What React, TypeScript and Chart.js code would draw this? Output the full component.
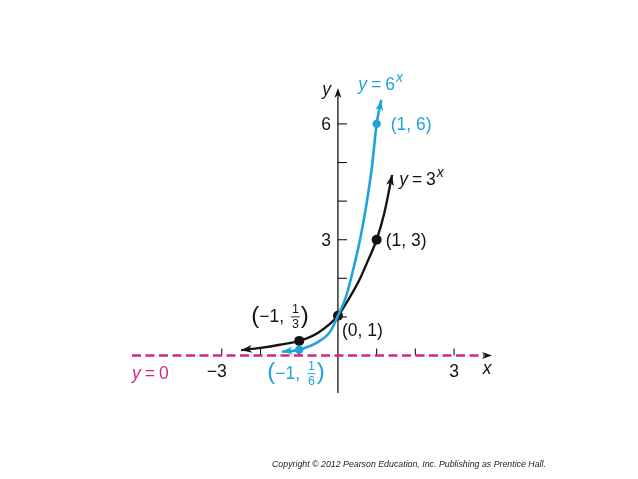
import React, { useEffect, useRef } from "react";
import { Chart, registerables } from "chart.js";

Chart.register(...registerables);

// ---- data ----
const xRange = [-5.32, 3.98];
const yRange = [-0.97, 6.93];
const xTickValues = [-3, -2, -1, 1, 2, 3];
const xLabelValues = [-3, 3];
const xLabelTexts = ["\u22123", "3"];
const yTickValues = [1, 2, 3, 4, 5, 6];
const yLabelValues = [3, 6];
const yLabelTexts = ["3", "6"];

// y = 3^x curve (black)
const curve3X = [-2.5, -2, -1.5, -1, -0.5, 0, 0.3, 0.55, 0.75, 1, 1.2, 1.4];
const curve3Y = [0.14, 0.2, 0.28, 0.38, 0.6, 1.03, 1.5, 1.95, 2.4, 3, 3.7, 4.68];
// y = 6^x curve (blue)
const curve6X = [-1.45, -1, -0.5, -0.2, 0, 0.2, 0.4, 0.6, 0.75, 0.88, 1, 1.12];
const curve6Y = [0.1, 0.15, 0.36, 0.62, 1.03, 1.5, 2.25, 3.15, 4.0, 4.9, 6, 6.62];

// marked points
const blackPtsX = [-1, 0, 1];
const blackPtsY = [0.38, 1.03, 3];
const bluePtsX = [-1, 1];
const bluePtsY = [0.15, 6];

const BLUE = "#1fa3dc";
const PINK = "#d0297f";
const BLACK = "#141414";
const FONT = "'Liberation Sans', Arial, Helvetica, sans-serif";

function drawArrow(ctx: CanvasRenderingContext2D, x: number, y: number, ang: number, color: string, len = 10, half = 4) {
  ctx.save();
  ctx.translate(x, y);
  ctx.rotate(ang);
  ctx.fillStyle = color;
  ctx.beginPath();
  ctx.moveTo(0, 0);
  ctx.lineTo(-len, -half);
  ctx.lineTo(-len * 0.7, 0);
  ctx.lineTo(-len, half);
  ctx.closePath();
  ctx.fill();
  ctx.restore();
}

function drawFracLabel(ctx: CanvasRenderingContext2D, left: number, mid: number, prefix: string, num: string, den: string, color: string) {
  ctx.save();
  ctx.fillStyle = color;
  ctx.strokeStyle = color;
  ctx.textBaseline = "middle";
  ctx.textAlign = "left";
  let x = left;
  ctx.font = `24px ${FONT}`;
  ctx.fillText("(", x, mid);
  x += ctx.measureText("(").width;
  ctx.font = `17.5px ${FONT}`;
  ctx.fillText(prefix, x, mid + 1);
  x += ctx.measureText(prefix).width + 2;
  ctx.font = `12.5px ${FONT}`;
  const w = ctx.measureText(num).width;
  ctx.textAlign = "center";
  ctx.fillText(num, x + w / 2 + 1, mid - 6.5);
  ctx.fillText(den, x + w / 2 + 1, mid + 9);
  ctx.lineWidth = 0.9;
  ctx.beginPath();
  ctx.moveTo(x, mid + 1);
  ctx.lineTo(x + w + 2, mid + 1);
  ctx.stroke();
  x += w + 3;
  ctx.textAlign = "left";
  ctx.font = `24px ${FONT}`;
  ctx.fillText(")", x, mid);
  ctx.restore();
}

function drawEqLabel(ctx: CanvasRenderingContext2D, left: number, base: number, rhs: string, sup: string | null, color: string) {
  ctx.save();
  ctx.fillStyle = color;
  ctx.textBaseline = "alphabetic";
  ctx.textAlign = "left";
  let x = left;
  ctx.font = `italic 17.5px ${FONT}`;
  ctx.fillText("y", x, base);
  x += ctx.measureText("y").width + 4;
  ctx.font = `17.5px ${FONT}`;
  ctx.fillText("=", x, base);
  x += ctx.measureText("=").width + 4;
  ctx.fillText(rhs, x, base);
  x += ctx.measureText(rhs).width + 1;
  if (sup) {
    ctx.font = `italic 14px ${FONT}`;
    ctx.fillText(sup, x, base - 8);
  }
  ctx.restore();
}

const graphPlugin = {
  id: "graphDecor",
  beforeDatasetsDraw(chart: any) {
    const ctx: CanvasRenderingContext2D = chart.ctx;
    const xs = chart.scales.x;
    const ys = chart.scales.y;
    const x0 = xs.getPixelForValue(0);
    const y0 = ys.getPixelForValue(0);
    ctx.save();
    // y axis
    ctx.strokeStyle = BLACK;
    ctx.lineWidth = 1.3;
    ctx.beginPath();
    ctx.moveTo(x0, ys.getPixelForValue(yRange[0]));
    ctx.lineTo(x0, ys.getPixelForValue(yRange[1]) + 6);
    ctx.stroke();
    // y ticks (to the right)
    ctx.lineWidth = 1.1;
    yTickValues.forEach((v) => {
      const p = ys.getPixelForValue(v);
      ctx.beginPath();
      ctx.moveTo(x0, p);
      ctx.lineTo(x0 + 9, p);
      ctx.stroke();
    });
    // x ticks (above)
    xTickValues.forEach((v) => {
      const p = xs.getPixelForValue(v);
      ctx.beginPath();
      ctx.moveTo(p, y0);
      ctx.lineTo(p, y0 - 7);
      ctx.stroke();
    });
    ctx.restore();
  },
  afterDatasetsDraw(chart: any) {
    const ctx: CanvasRenderingContext2D = chart.ctx;
    const xs = chart.scales.x;
    const ys = chart.scales.y;
    const px = (v: number) => xs.getPixelForValue(v);
    const py = (v: number) => ys.getPixelForValue(v);
    const x0 = px(0);
    const y0 = py(0);
    ctx.save();
    // axis arrows
    drawArrow(ctx, px(xRange[1]), y0, 0, BLACK, 10, 3.5);
    drawArrow(ctx, x0, py(yRange[1]), -Math.PI / 2, BLACK, 10, 3.5);
    // curve arrows
    const endArrow = (xsArr: number[], ysArr: number[], color: string) => {
      const n = xsArr.length;
      const a1 = Math.atan2(py(ysArr[n - 1]) - py(ysArr[n - 2]), px(xsArr[n - 1]) - px(xsArr[n - 2]));
      drawArrow(ctx, px(xsArr[n - 1]), py(ysArr[n - 1]), a1, color, 11, 4);
      const a0 = Math.atan2(py(ysArr[0]) - py(ysArr[1]), px(xsArr[0]) - px(xsArr[1]));
      drawArrow(ctx, px(xsArr[0]), py(ysArr[0]), a0, color, 11, 4);
    };
    endArrow(curve6X, curve6Y, BLUE);
    endArrow(curve3X, curve3Y, BLACK);

    // tick labels
    ctx.font = `17.5px ${FONT}`;
    ctx.fillStyle = BLACK;
    ctx.textBaseline = "middle";
    const digitW = ctx.measureText("3").width;
    xLabelValues.forEach((v, i) => {
      ctx.textAlign = "right";
      ctx.fillText(xLabelTexts[i], px(v) + digitW / 2, y0 + 17);
    });
    yLabelValues.forEach((v, i) => {
      ctx.textAlign = "right";
      ctx.fillText(yLabelTexts[i], x0 - 7, py(v) + 1);
    });
    // axis names
    ctx.font = `italic 17.5px ${FONT}`;
    ctx.textAlign = "center";
    ctx.fillText("x", px(xRange[1]) - 5, y0 + 14);
    ctx.textAlign = "right";
    ctx.textBaseline = "alphabetic";
    ctx.fillText("y", x0 - 7, py(yRange[1]) + 7);

    // point labels
    ctx.font = `17.5px ${FONT}`;
    ctx.textAlign = "left";
    ctx.textBaseline = "middle";
    ctx.fillStyle = BLUE;
    ctx.fillText("(1, 6)", px(bluePtsX[1]) + 14, py(bluePtsY[1]) + 1);
    ctx.fillStyle = BLACK;
    ctx.fillText("(1, 3)", px(blackPtsX[2]) + 9, py(blackPtsY[2]) + 1);
    ctx.fillText("(0, 1)", px(blackPtsX[1]) + 4, py(blackPtsY[1]) + 15);
    drawFracLabel(ctx, px(blackPtsX[0]) - 48, py(blackPtsY[0]) - 25, "\u22121, ", "1", "3", BLACK);
    drawFracLabel(ctx, px(bluePtsX[0]) - 32, py(bluePtsY[0]) + 23, "\u22121, ", "1", "6", BLUE);

    // equation labels
    drawEqLabel(ctx, px(curve6X[curve6X.length - 1]) - 23, py(curve6Y[curve6Y.length - 1]) - 10, "6", "x", BLUE);
    drawEqLabel(ctx, px(curve3X[curve3X.length - 1]) + 7, py(curve3Y[curve3Y.length - 1]) + 10, "3", "x", BLACK);
    drawEqLabel(ctx, px(xRange[0]), y0 + 23, "0", null, PINK);

    // copyright
    ctx.font = `italic 8.8px ${FONT}`;
    ctx.fillStyle = "#222";
    ctx.textAlign = "left";
    ctx.textBaseline = "middle";
    ctx.fillText("Copyright \u00A9 2012 Pearson Education, Inc. Publishing as Prentice Hall.", 272, 465);
    ctx.restore();
  },
};

export default function App() {
  const ref = useRef<HTMLCanvasElement | null>(null);
  useEffect(() => {
    if (!ref.current) return;
    const toPts = (a: number[], b: number[]) => a.map((x, i) => ({ x, y: b[i] }));
    const chart = new Chart(ref.current, {
      type: "line",
      data: {
        datasets: [
          {
            label: "y = 0",
            data: toPts([xRange[0], xRange[1] - 0.2], [0, 0]),
            borderColor: PINK,
            borderWidth: 2.6,
            borderDash: [9, 4.5],
            pointRadius: 0,
            fill: false,
          },
          {
            label: "y = 6^x",
            data: toPts(curve6X, curve6Y),
            borderColor: BLUE,
            borderWidth: 2.6,
            pointRadius: 0,
            cubicInterpolationMode: "monotone",
            fill: false,
          },
          {
            label: "y = 3^x",
            data: toPts(curve3X, curve3Y),
            borderColor: BLACK,
            borderWidth: 2.4,
            pointRadius: 0,
            cubicInterpolationMode: "monotone",
            fill: false,
          },
          {
            label: "blue points",
            data: toPts(bluePtsX, bluePtsY),
            showLine: false,
            pointRadius: 4.2,
            pointBackgroundColor: BLUE,
            pointBorderWidth: 0,
            borderColor: BLUE,
          },
          {
            label: "black points",
            data: toPts(blackPtsX, blackPtsY),
            showLine: false,
            pointRadius: 5,
            pointBackgroundColor: BLACK,
            pointBorderWidth: 0,
            borderColor: BLACK,
          },
        ],
      },
      options: {
        responsive: false,
        animation: false,
        devicePixelRatio: 1,
        layout: { padding: { left: 132, right: 146, top: 88, bottom: 86 } },
        plugins: { legend: { display: false }, tooltip: { enabled: false } },
        scales: {
          x: { type: "linear", min: xRange[0], max: xRange[1], display: false },
          y: { type: "linear", min: yRange[0], max: yRange[1], display: false },
        },
      },
      plugins: [graphPlugin],
    } as any);
    return () => chart.destroy();
  }, []);
  return (
    <div style={{ position: "fixed", left: 0, top: 0, width: 638, height: 479, background: "#fff" }}>
      <canvas ref={ref} width={638} height={479} />
    </div>
  );
}
